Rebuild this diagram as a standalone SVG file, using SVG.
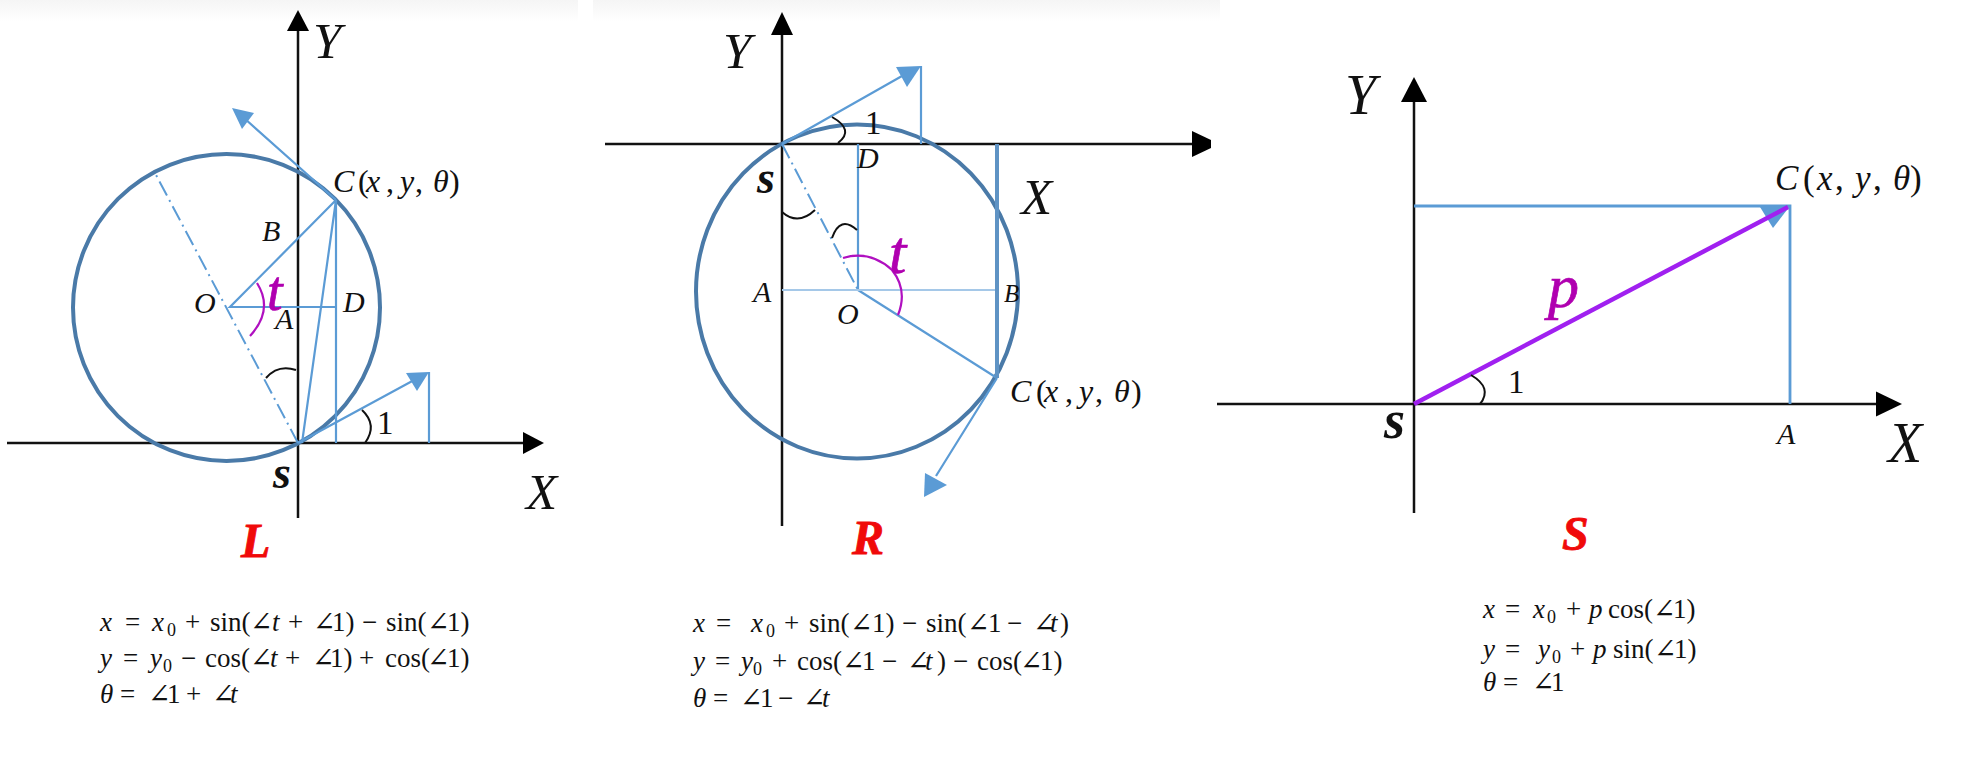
<svg xmlns="http://www.w3.org/2000/svg" width="1964" height="762" viewBox="0 0 1964 762">
<style>
text{font-family:"Liberation Serif","DejaVu Serif",serif;fill:#111}
.i{font-style:italic}
.f{font-size:27px}
.sub{font-size:18px}
.ax{font-size:51px;font-style:italic}
.num{font-size:33px}
.pt{font-size:30px;font-style:italic}
.c{font-size:32px}
.s{font-size:46px;font-style:italic;font-weight:bold}
.red{font-size:48px;font-style:italic;font-weight:bold;fill:#f00a0a;stroke:#f00a0a;stroke-width:.8}
.pur{font-style:italic;fill:#b000b0;stroke:#b000b0;stroke-width:.7}
.axis{stroke:#111;stroke-width:2.5;fill:none}
.thin{stroke:#5b9bd5;stroke-width:2.2;fill:none}
.thick{stroke:#5f93c4;stroke-width:4;fill:none}
.dd{stroke:#5b9bd5;stroke-width:2;fill:none;stroke-dasharray:16 5 2 5}
.circ{stroke:#4a7aa8;stroke-width:4;fill:none}
.arc{stroke:#111;stroke-width:2;fill:none}
.parc{stroke:#b010c0;stroke-width:2.2;fill:none}
.hb{fill:#000}
.hl{fill:#5b9bd5}
</style>
<defs>
<linearGradient id="fade" x1="0" y1="0" x2="0" y2="1"><stop offset="0" stop-color="#f5f5f5"/><stop offset="1" stop-color="#ffffff"/></linearGradient>
</defs>
<rect width="1964" height="762" fill="#ffffff"/>
<rect x="0" y="0" width="578" height="22" fill="url(#fade)"/>
<rect x="593" y="0" width="627" height="22" fill="url(#fade)"/>

<g id="panel-L">
<line class="axis" x1="298" y1="25" x2="298" y2="518"/>
<line class="axis" x1="7" y1="443" x2="526" y2="443"/>
<polygon class="hb" points="298,10 287,31 309,31"/>
<polygon class="hb" points="544,443 523,432 523,454"/>
<circle class="circ" cx="226.5" cy="307.5" r="153.5"/>
<path class="dd" d="M298,443 L155,173"/>
<path class="thin" d="M336,200 L230,307 L336,307 M336,200 L336,443 M336,200 L302,443 M298,443 L416,379 M429,372 L429,443 M336,200 L244,118"/>
<polygon class="hl" points="406,373 429,372 417,391"/>
<polygon class="hl" points="232,108 254,113 242,129"/>
<path class="arc" d="M266,378 Q278,364 296,370 M362,410 Q378,425 365,443"/>
<path class="parc" d="M257,283 Q274,310 250,336"/>
<text class="ax" x="313" y="58">Y</text>
<text class="ax" x="526" y="509">X</text>
<text class="c"><tspan class="i" x="333" y="192">C</tspan> <tspan x="358" y="192">(</tspan><tspan class="i" x="366" y="192">x</tspan><tspan x="386" y="192">,</tspan> <tspan class="i" x="400" y="192">y</tspan><tspan x="415" y="192">,</tspan> <tspan class="i" x="433" y="192">θ</tspan><tspan x="449" y="192">)</tspan></text>
<text class="pt" x="262" y="241">B</text>
<text class="pt" x="194" y="313">O</text>
<text class="pt" x="343" y="312">D</text>
<text class="pt" x="275" y="329">A</text>
<text class="pur" style="font-size:56px" x="267" y="310">t</text>
<text class="num" x="377" y="434">1</text>
<text class="s" x="273" y="488">s</text>
<text class="red" x="241" y="557">L</text>
<text class="f"><tspan class="i" x="100" y="631">x</tspan> <tspan x="125" y="631">=</tspan> <tspan class="i" x="152" y="631">x</tspan><tspan class="sub" x="167" y="636">0</tspan> <tspan x="185" y="631">+</tspan> <tspan x="210" y="631">sin(</tspan><tspan x="250" y="631">∠</tspan><tspan class="i" x="272" y="631">t</tspan> <tspan x="288" y="631">+</tspan> <tspan x="313" y="631">∠</tspan><tspan x="332" y="631">1)</tspan> <tspan x="362" y="631">−</tspan> <tspan x="386" y="631">sin(</tspan><tspan x="427" y="631">∠</tspan><tspan x="447" y="631">1)</tspan></text>
<text class="f"><tspan class="i" x="100" y="667">y</tspan> <tspan x="123" y="667">=</tspan> <tspan class="i" x="150" y="667">y</tspan><tspan class="sub" x="163" y="672">0</tspan> <tspan x="181" y="667">−</tspan> <tspan x="205" y="667">cos(</tspan><tspan x="250" y="667">∠</tspan><tspan class="i" x="270" y="667">t</tspan> <tspan x="285" y="667">+</tspan> <tspan x="312" y="667">∠</tspan><tspan x="330" y="667">1)</tspan> <tspan x="359" y="667">+</tspan> <tspan x="385" y="667">cos(</tspan><tspan x="427" y="667">∠</tspan><tspan x="447" y="667">1)</tspan></text>
<text class="f"><tspan class="i" x="100" y="703">θ</tspan> <tspan x="120" y="703">=</tspan> <tspan x="148" y="703">∠</tspan><tspan x="167" y="703">1</tspan> <tspan x="186" y="703">+</tspan> <tspan x="212" y="703">∠</tspan><tspan class="i" x="230" y="703">t</tspan></text>
</g>

<g id="panel-R">
<line class="axis" x1="782" y1="30" x2="782" y2="526"/>
<line class="axis" x1="605" y1="144" x2="1195" y2="144"/>
<polygon class="hb" points="782,12 771,35 793,35"/>
<polygon class="hb" points="1192,131 1211,140 1211,148 1192,157"/>
<ellipse class="circ" cx="857" cy="291.5" rx="161" ry="167"/>
<path class="dd" d="M782,144 L858,290"/>
<path class="thin" d="M782,144 L902,76 M921,66 L921,144 M858,144 L858,290 M858,290 L997,378 M997,378 L936,476"/>
<line x1="782" y1="290" x2="997" y2="290" stroke="#a5c8e8" stroke-width="2"/>
<line class="thick" x1="997" y1="144" x2="997" y2="378"/>
<polygon class="hl" points="896,67 921,66 907,87"/>
<polygon class="hl" points="925,473 947,485 924,497"/>
<path class="arc" d="M832,117 Q855,130 838,143 M782,212 Q798,226 815,210 M832,238 Q840,215 857,230"/>
<path class="parc" d="M843,258 Q870,250 892,270 Q908,290 898,315"/>
<text class="ax" x="723" y="68">Y</text>
<text class="ax" x="1021" y="214">X</text>
<text class="c"><tspan class="i" x="1010" y="402">C</tspan> <tspan x="1036" y="402">(</tspan><tspan class="i" x="1044" y="402">x</tspan><tspan x="1065" y="402">,</tspan> <tspan class="i" x="1079" y="402">y</tspan><tspan x="1095" y="402">,</tspan> <tspan class="i" x="1114" y="402">θ</tspan><tspan x="1131" y="402">)</tspan></text>
<text class="pt" x="857" y="168">D</text>
<text class="pt" x="753" y="302">A</text>
<text class="pt" x="837" y="324">O</text>
<text class="pt" style="font-size:25px" x="1004" y="302">B</text>
<text class="pur" style="font-size:62px" x="889" y="273">t</text>
<text class="num" x="865" y="134">1</text>
<text class="s" x="757" y="193">s</text>
<text class="red" x="852" y="554">R</text>
<text class="f"><tspan class="i" x="693" y="632">x</tspan> <tspan x="716" y="632">=</tspan> <tspan class="i" x="751" y="632">x</tspan><tspan class="sub" x="766" y="637">0</tspan> <tspan x="784" y="632">+</tspan> <tspan x="809" y="632">sin(</tspan><tspan x="850" y="632">∠</tspan><tspan x="872" y="632">1)</tspan> <tspan x="902" y="632">−</tspan> <tspan x="926" y="632">sin(</tspan><tspan x="967" y="632">∠</tspan><tspan x="988" y="632">1</tspan> <tspan x="1007" y="632">−</tspan> <tspan x="1033" y="632">∠</tspan><tspan class="i" x="1050" y="632">t</tspan><tspan x="1060" y="632">)</tspan></text>
<text class="f"><tspan class="i" x="693" y="670">y</tspan> <tspan x="715" y="670">=</tspan> <tspan class="i" x="741" y="670">y</tspan><tspan class="sub" x="753" y="675">0</tspan> <tspan x="772" y="670">+</tspan> <tspan x="797" y="670">cos(</tspan><tspan x="842" y="670">∠</tspan><tspan x="862" y="670">1</tspan> <tspan x="882" y="670">−</tspan> <tspan x="907" y="670">∠</tspan><tspan class="i" x="925" y="670">t</tspan><tspan x="937" y="670">)</tspan> <tspan x="953" y="670">−</tspan> <tspan x="977" y="670">cos(</tspan><tspan x="1020" y="670">∠</tspan><tspan x="1040" y="670">1)</tspan></text>
<text class="f"><tspan class="i" x="693" y="707">θ</tspan> <tspan x="713" y="707">=</tspan> <tspan x="740" y="707">∠</tspan><tspan x="760" y="707">1</tspan> <tspan x="778" y="707">−</tspan> <tspan x="803" y="707">∠</tspan><tspan class="i" x="822" y="707">t</tspan></text>
</g>

<g id="panel-S">
<line class="axis" x1="1414" y1="100" x2="1414" y2="513"/>
<line class="axis" x1="1217" y1="404" x2="1880" y2="404"/>
<polygon class="hb" points="1414,77 1401,102 1427,102"/>
<polygon class="hb" points="1902,404 1876,391.5 1876,416.5"/>
<path class="thin" style="stroke-width:2.8" d="M1414,206 L1790,206 L1790,404"/>
<polygon class="hl" points="1760,207 1790,206 1773,228"/>
<line x1="1414" y1="404" x2="1788" y2="207" stroke="#a020f0" stroke-width="4.5"/>
<path class="arc" d="M1471,375 Q1493,388 1480,404"/>
<text class="ax" style="font-size:56px" x="1345" y="114">Y</text>
<text class="ax" style="font-size:56px" x="1888" y="462">X</text>
<text class="c" style="font-size:35px"><tspan class="i" x="1775" y="190">C</tspan> <tspan x="1803" y="190">(</tspan><tspan class="i" x="1817" y="190">x</tspan><tspan x="1835" y="190">,</tspan> <tspan class="i" x="1855" y="190">y</tspan><tspan x="1873" y="190">,</tspan> <tspan class="i" x="1893" y="190">θ</tspan><tspan x="1910" y="190">)</tspan></text>
<text class="pt" x="1777" y="444">A</text>
<text class="pur" style="font-size:62px" x="1548" y="307">p</text>
<text class="num" x="1508" y="393">1</text>
<text class="s" style="font-size:54px" x="1384" y="438">s</text>
<text class="red" x="1562" y="550">S</text>
<text class="f"><tspan class="i" x="1483" y="618">x</tspan> <tspan x="1505" y="618">=</tspan> <tspan class="i" x="1533" y="618">x</tspan><tspan class="sub" x="1547" y="623">0</tspan> <tspan x="1566" y="618">+</tspan> <tspan class="i" x="1589" y="618">p</tspan> <tspan x="1608" y="618">cos(</tspan><tspan x="1653" y="618">∠</tspan><tspan x="1673" y="618">1)</tspan></text>
<text class="f"><tspan class="i" x="1483" y="658">y</tspan> <tspan x="1505" y="658">=</tspan> <tspan class="i" x="1538" y="658">y</tspan><tspan class="sub" x="1552" y="663">0</tspan> <tspan x="1570" y="658">+</tspan> <tspan class="i" x="1593" y="658">p</tspan> <tspan x="1613" y="658">sin(</tspan><tspan x="1654" y="658">∠</tspan><tspan x="1674" y="658">1)</tspan></text>
<text class="f"><tspan class="i" x="1483" y="691">θ</tspan> <tspan x="1503" y="691">=</tspan> <tspan x="1532" y="691">∠</tspan><tspan x="1551" y="691">1</tspan></text>
</g>
</svg>
